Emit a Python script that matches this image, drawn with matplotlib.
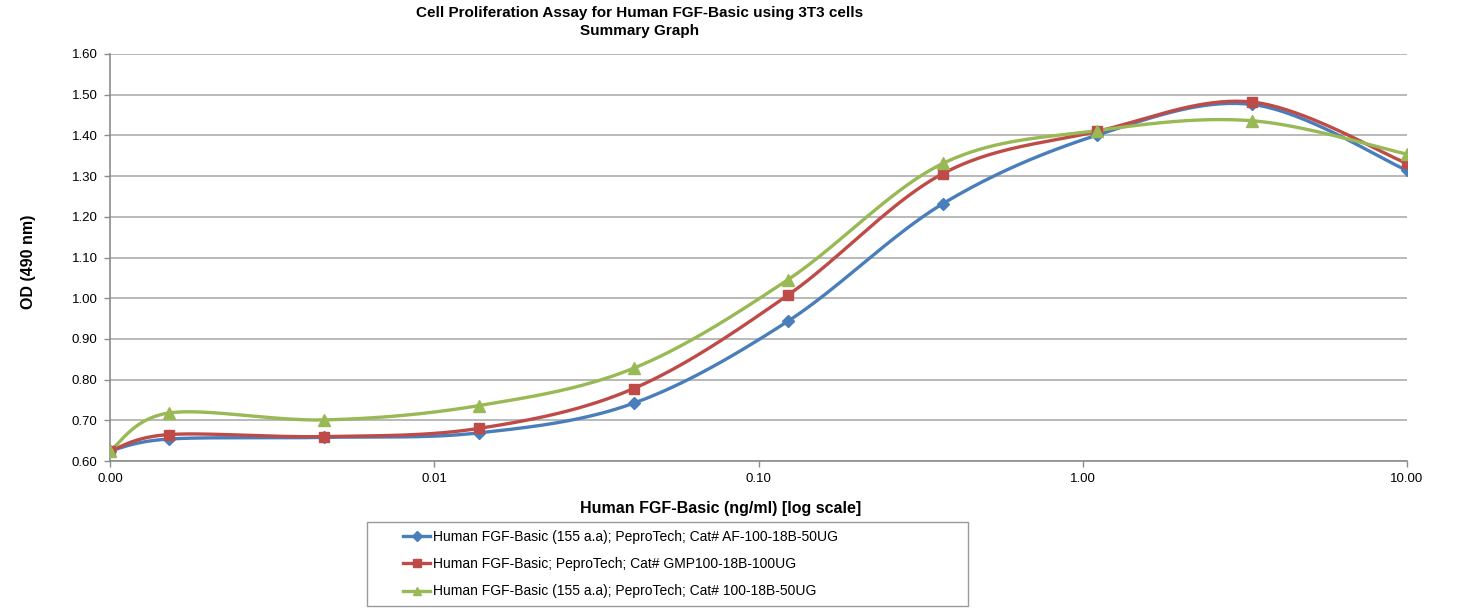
import numpy as np
import matplotlib
matplotlib.use("Agg")
import matplotlib.pyplot as plt
from matplotlib.patches import Rectangle
from matplotlib.ticker import FixedLocator, FuncFormatter

plt.rcParams["font.family"] = ["Liberation Sans", "DejaVu Sans"]

# concentrations (ng/ml), first point is the blank drawn at the axis minimum
conc = [0.001, 0.00152, 0.00457, 0.0137, 0.0412, 0.123, 0.370, 1.11, 3.33, 10.0]

od_af100 = [0.625, 0.654, 0.658, 0.669, 0.742, 0.943, 1.232, 1.401, 1.476, 1.314]
od_gmp100 = [0.625, 0.665, 0.660, 0.680, 0.778, 1.007, 1.306, 1.410, 1.482, 1.331]
od_100 = [0.625, 0.718, 0.701, 0.736, 0.828, 1.045, 1.331, 1.412, 1.436, 1.354]

labels = [
    "Human FGF-Basic (155 a.a); PeproTech; Cat# AF-100-18B-50UG",
    "Human FGF-Basic; PeproTech; Cat# GMP100-18B-100UG",
    "Human FGF-Basic (155 a.a); PeproTech; Cat# 100-18B-50UG",
]
colors = ["#4A7EBB", "#BE4B48", "#98B954"]
markers = ["D", "s", "^"]
msizes = [6, 7, 8]

y_ticks = [0.6, 0.7, 0.8, 0.9, 1.0, 1.1, 1.2, 1.3, 1.4, 1.5, 1.6]
x_ticks = [0.001, 0.01, 0.1, 1.0, 10.0]


def smooth(xs, ys, sx=324.0, sy=407.0, n=40):
    """Excel-like smoothed line (Catmull-Rom Bezier) in log-x screen-ish space."""
    px = np.log10(xs) * sx
    py = np.asarray(ys) * sy
    pts = np.column_stack([px, py])
    out = []
    for i in range(len(pts) - 1):
        p0 = pts[max(i - 1, 0)]
        p1 = pts[i]
        p2 = pts[i + 1]
        p3 = pts[min(i + 2, len(pts) - 1)]
        c1 = p1 + (p2 - p0) / 6.0
        c2 = p2 - (p3 - p1) / 6.0
        t = np.linspace(0, 1, n)[:, None]
        seg = ((1 - t) ** 3) * p1 + 3 * ((1 - t) ** 2) * t * c1 + 3 * (1 - t) * t ** 2 * c2 + t ** 3 * p2
        out.append(seg if i == 0 else seg[1:])
    curve = np.vstack(out)
    return 10 ** (curve[:, 0] / sx), curve[:, 1] / sy


fig = plt.figure(figsize=(14.6, 6.14), dpi=100)
ax = fig.add_axes([110 / 1460, 153 / 614, 1297 / 1460, 407 / 614])

handles = []
for ys, lab, col, mk, ms in zip([od_af100, od_gmp100, od_100], labels, colors, markers, msizes):
    sx_, sy_ = smooth(conc, ys)
    ax.plot(sx_, sy_, color=col, lw=2.4, solid_capstyle="round", zorder=3)
    ax.plot(conc, ys, ls="none", marker=mk, ms=ms, color=col, mec=col, zorder=4)
    h, = ax.plot([], [], color=col, lw=2.4, marker=mk, ms=ms * 0.8, mec=col)
    handles.append(h)

ax.set_xscale("log")
ax.set_xlim(0.001, 10)
ax.set_ylim(0.6, 1.6)
ax.xaxis.set_major_locator(FixedLocator(x_ticks))
ax.xaxis.set_minor_locator(FixedLocator([]))
ax.xaxis.set_major_formatter(FuncFormatter(lambda v, p: f"{v:.2f}"))
ax.set_yticks(y_ticks)
ax.yaxis.set_major_formatter(FuncFormatter(lambda v, p: f"{v:.2f}"))

ax.grid(axis="y", color="#ADADAD", lw=1.2)
ax.set_axisbelow(True)
for s in ["top", "right"]:
    ax.spines[s].set_visible(False)
for s in ["left", "bottom"]:
    ax.spines[s].set_color("#8C8C8C")
    ax.spines[s].set_linewidth(1.2)
ax.tick_params(axis="both", direction="out", length=4, width=1.0, color="#8C8C8C",
               labelsize=9.5, labelcolor="black", pad=5)

ax.set_ylabel("OD (490 nm)", fontsize=11.5, fontweight="bold", va="center")
ax.yaxis.set_label_coords((28 - 110) / 1297, (461 - 262) / 407)
ax.set_xlabel("Human FGF-Basic (ng/ml) [log scale]", fontsize=11.5, fontweight="bold", va="center")
ax.xaxis.set_label_coords((721 - 110) / 1297, (461 - 509) / 407)

fig.text(640 / 1460, 1 - 22 / 614, "Cell Proliferation Assay for Human FGF-Basic using 3T3 cells\nSummary Graph",
         ha="center", va="center", fontsize=11, fontweight="bold", linespacing=1.45)

fig.patches.append(Rectangle((367 / 1460, 8 / 614), 601 / 1460, 84 / 614, transform=fig.transFigure,
                             fill=False, edgecolor="#9A9A9A", lw=1.0))
fig.legend(handles, labels, loc="upper left", bbox_to_anchor=(403 / 1460, 1 - 530 / 614),
           frameon=False, fontsize=10, handlelength=1.95, handletextpad=0.2, labelspacing=0.95,
           borderpad=0, borderaxespad=0)

fig.savefig("out.png", dpi=100, facecolor="white")
